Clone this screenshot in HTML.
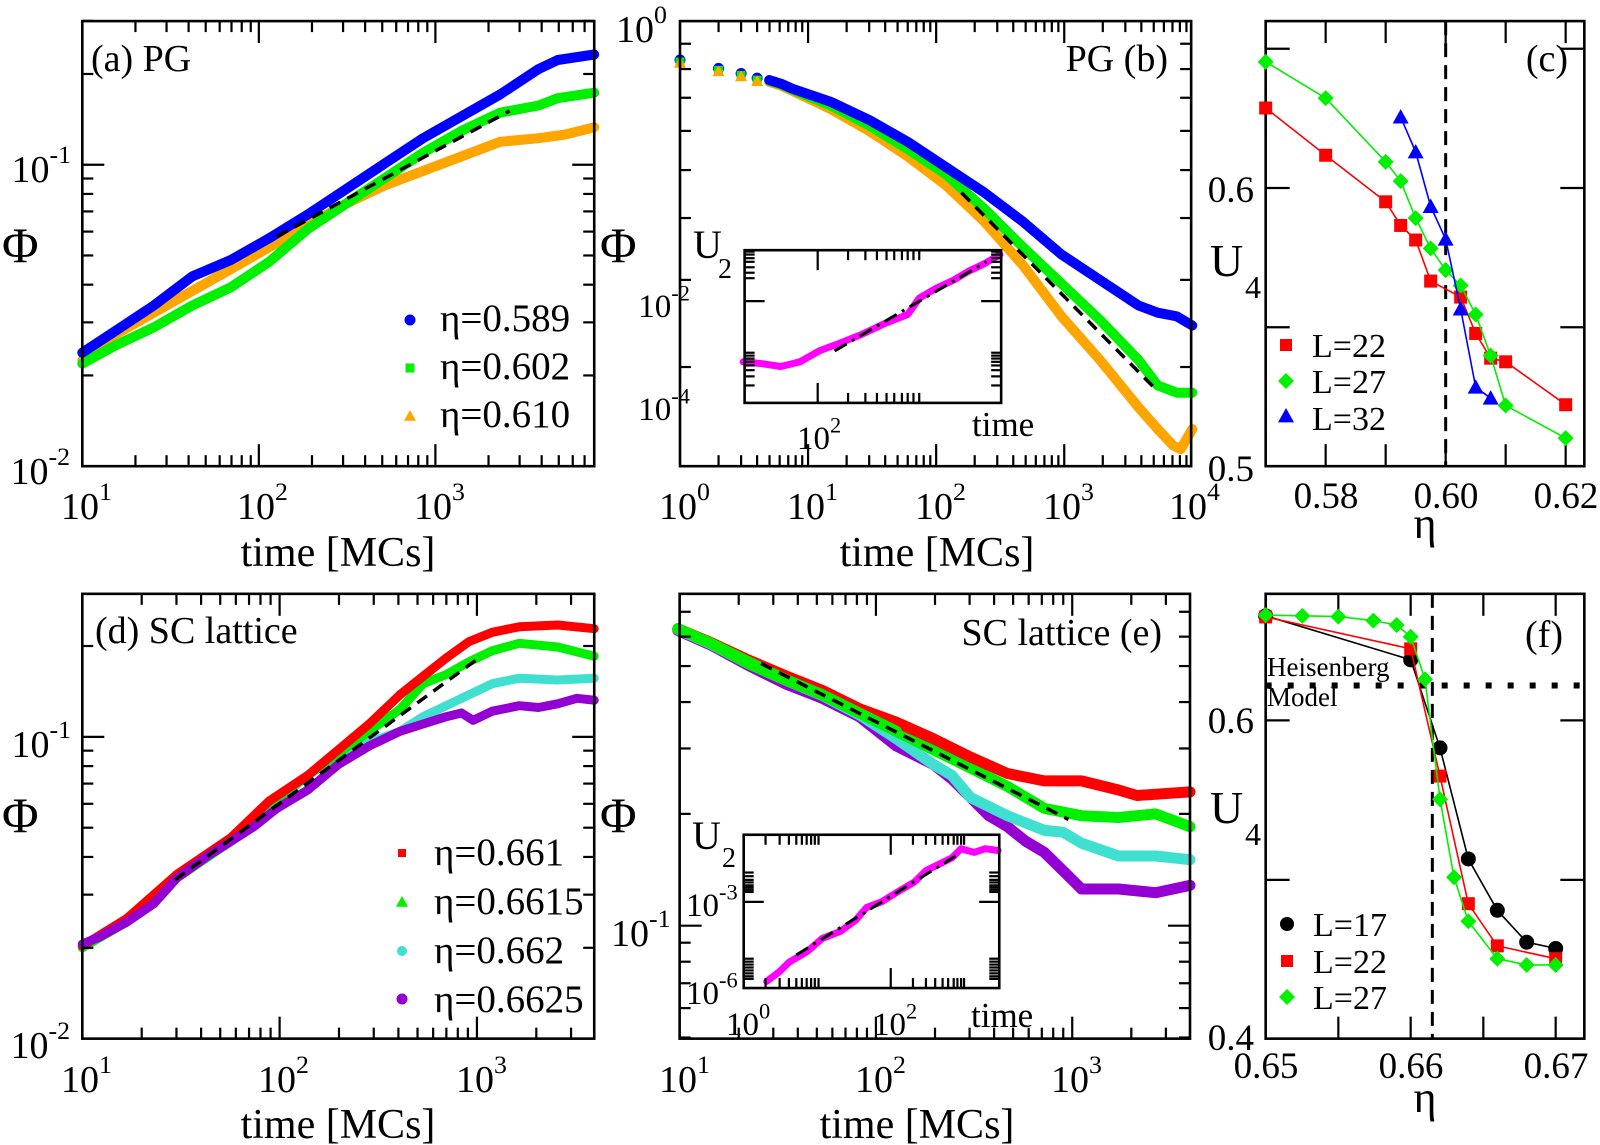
<!DOCTYPE html>
<html><head><meta charset="utf-8"><style>
html,body{margin:0;padding:0;background:#fff;}
svg{display:block;font-family:"Liberation Serif","DejaVu Serif",serif;}
</style></head><body>
<svg id="s" xmlns="http://www.w3.org/2000/svg" width="1600" height="1145" viewBox="0 0 1600 1145"></svg>
<script>
const NS='http://www.w3.org/2000/svg';
const svg=document.getElementById('s');
function el(tag,a,p){const e=document.createElementNS(NS,tag);for(const k in a)e.setAttribute(k,a[k]);(p||svg).appendChild(e);return e;}
function P(ox,oy,sx,sy,f){return {X:z=>ox+z/sx,Y:z=>oy+z/sy,f:f};}
const A=P(0,0,2.6,2.75,[214,58,1545,1282]);
const B=P(600,0,2.6,2.75,[208,58,1537,1282]);
const C=P(1180,0,3,2.75,[257,58,1213,1282]);
const D=P(0,570,2.6,2.727,[214,65,1545,1278]);
const E=P(600,570,2.7,2.727,[215,65,1593,1278]);
const F=P(1180,570,3,2.727,[257,65,1213,1278]);
function line(x1,y1,x2,y2,w,c,dash){el('line',{x1,y1,x2,y2,stroke:c||'#000','stroke-width':w||2.2,'stroke-dasharray':dash||'none'});}
function frame(p,f){f=f||p.f;el('rect',{x:p.X(f[0]),y:p.Y(f[1]),width:p.X(f[2])-p.X(f[0]),height:p.Y(f[3])-p.Y(f[1]),fill:'none',stroke:'#000','stroke-width':2.6});}
function xt(p,z,len,f){f=f||p.f;if(z<f[0]-1||z>f[2]+1)return;const x=p.X(z);line(x,p.Y(f[1]),x,p.Y(f[1])+len);line(x,p.Y(f[3]),x,p.Y(f[3])-len);}
function yt(p,z,len,f){f=f||p.f;if(z<f[1]-1||z>f[3]+1)return;const y=p.Y(z);line(p.X(f[0]),y,p.X(f[0])+len,y);line(p.X(f[2]),y,p.X(f[2])-len,y);}
function logx(p,bases,d,majors,ML,ml,f){majors.forEach(m=>xt(p,m,ML,f));bases.forEach(b=>{for(let k=2;k<=9;k++)xt(p,b+d*Math.log10(k),ml,f);});}
function logy(p,bases,d,majors,ML,ml,f){majors.forEach(m=>yt(p,m,ML,f));bases.forEach(b=>{for(let k=2;k<=9;k++)yt(p,b-d*Math.log10(k),ml,f);});}
function poly(p,pts,c,w,dash){el('polyline',{points:pts.map(q=>p.X(q[0]).toFixed(1)+','+p.Y(q[1]).toFixed(1)).join(' '),fill:'none',stroke:c,'stroke-width':w,'stroke-linejoin':'round','stroke-linecap':dash?'butt':'round','stroke-dasharray':dash||'none'});}
function T(x,y,s,size,anchor,style){const t=el('text',{x,y,'font-size':size,'text-anchor':anchor||'start'});if(style)t.setAttribute('style',style);t.textContent=s;return t;}
function sup(x,y,b,e,size,anchor){const t=el('text',{x,y,'font-size':size,'text-anchor':anchor||'start'});t.appendChild(document.createTextNode(b));const s=el('tspan',{dy:-size*0.5,'font-size':size*0.68},t);s.textContent=e;return t;}
function circ(x,y,r,c){el('circle',{cx:x,cy:y,r,fill:c});}
function sq(x,y,s,c){el('rect',{x:x-s/2,y:y-s/2,width:s,height:s,fill:c});}
function dia(x,y,s,c){el('polygon',{points:`${x},${y-s} ${x+s},${y} ${x},${y+s} ${x-s},${y}`,fill:c});}
function tri(x,y,s,c){el('polygon',{points:`${x},${y-s} ${x+s},${y+s*0.8} ${x-s},${y+s*0.8}`,fill:c});}
function pts(p,arr,fn,c,s){arr.forEach(q=>fn(p.X(q[0]),p.Y(q[1]),s,c));}
const ML=22,ml=11;
const BLUE='#0000ff',GRN='#00f000',ORG='#ffa500',RED='#ff0000',CYAN='#40e0d0',PUR='#9400d3',MAG='#ff00ff';

/* ---------- (a) ---------- */
poly(A,[[214,990],[300,920],[400,860],[500,800],[600,740],[700,680],[800,620],[900,560],[1000,510],[1100,470],[1200,430],[1300,390],[1400,380],[1470,370],[1545,350]],ORG,10);
poly(A,[[214,1000],[300,950],[400,900],[500,840],[600,790],[700,720],[800,630],[900,560],[1000,490],[1100,420],[1200,360],[1300,310],[1400,290],[1450,270],[1545,255]],GRN,10);
poly(A,[[214,970],[300,910],[400,840],[500,760],[600,715],[700,655],[800,590],[900,520],[1000,450],[1100,380],[1200,320],[1300,260],[1400,190],[1450,165],[1545,150]],BLUE,10);
poly(A,[[720,650],[1325,305]],'#000',3.5,'12 8');
frame(A);
logx(A,[214-459,214,673,1132],459,[673,1132],ML,ml);
logy(A,[1282,453],829,[453],ML,ml);
circ(410,320,5.5,BLUE);sq(410,368,9,GRN);tri(410,416,6,ORG);
T(440,331,'η=0.589',39);T(440,379,'η=0.602',39);T(440,427,'η=0.610',39);
T(91,71,'(a) PG',38);
sup(71,182,'10','-1',38,'end');sup(70,484,'10','-2',38,'end');
[[82,'1'],[258,'2'],[435,'3']].forEach(q=>sup(q[0]-21,519,'10',q[1],38));
T(2,262,'Φ',50);
T(338,566,'time [MCs]',42,'middle');

/* ---------- (b) ---------- */
const bB=[208,541,874,1207,1540];
poly(B,[[440,225],[470,235],[500,250],[600,300],[700,360],[800,430],[900,510],[1000,610],[1100,730],[1200,870],[1300,990],[1400,1120],[1450,1180],[1490,1225],[1510,1235],[1540,1180]],ORG,10);
poly(B,[[440,222],[470,232],[500,246],[600,290],[700,345],[800,410],[900,480],[1000,575],[1100,680],[1200,780],[1300,880],[1400,990],[1450,1060],[1500,1080],[1540,1080]],GRN,10);
poly(B,[[440,220],[470,230],[500,244],[600,280],[700,330],[800,390],[900,460],[1000,530],[1100,610],[1200,700],[1300,770],[1400,840],[1450,860],[1500,870],[1540,895]],BLUE,10);
[1,2,3,4].forEach((t,i)=>{const zx=208+333*Math.log10(t);const zy=[165,188,202,215][i];const x=B.X(zx),y=B.Y(zy);circ(x,y,5.5,BLUE);sq(x,y+2,9,GRN);tri(x,y+3,6,ORG);});
poly(B,[[940,530],[1440,1065]],'#000',3.5,'12 8');
frame(B);
logx(B,bB,333,[541,874,1207],ML,ml);
logy(B,[1419],1361,[],ML,ml);
T(1168,71,'PG (b)',38,'end');
sup(616,42,'10','0',38);
[[680,'0'],[808,'1'],[936,'2'],[1064,'3'],[1190,'4']].forEach(q=>sup(q[0]-21,519,'10',q[1],38));
T(600,262,'Φ',50);
T(937,566,'time [MCs]',42,'middle');
// inset b
const iB=[376,688,1043,1108];
el('rect',{x:B.X(376),y:B.Y(688),width:B.X(1043)-B.X(376),height:B.Y(1108)-B.Y(688),fill:'#fff',stroke:'none'});
poly(B,[[372,995],[420,1000],[470,1008],[520,995],[570,965],[620,945],[680,920],[740,890],[800,865],[830,820],[870,795],[920,770],[960,745],[1000,725],[1040,700]],MAG,7);
poly(B,[[610,965],[1005,720]],'#000',3,'14 6 3 6');
frame(B,iB);
xt(B,566,20,iB);[645,690,720,745,765,785,800,815,830].forEach(z=>xt(B,z,10,iB));
yt(B,828,20,iB);[692,700,710,720,735,750,765,970,978,986,995,1005,1018,1035,1060].forEach(z=>yt(B,z,10,iB));
T(693,258,'U',40);T(718,278,'2',28);
sup(690,317,'10','-2',33,'end');sup(690,420,'10','-4',33,'end');
sup(797,449,'10','2',33);
T(972,436,'time',35);

/* ---------- (c) ---------- */
line(C.X(797),C.Y(58),C.X(797),C.Y(1282),3,'#000','14 8');
frame(C);
[437,617,797,977,1157].forEach(z=>xt(C,z,22));
[134,517,900].forEach(z=>yt(C,z,24));
const cR=[[257,297],[437,427],[617,555],[662,620],[707,660],[752,773],[842,817],[887,917],[932,985],[977,995],[1157,1113]];
const cG=[[257,170],[437,270],[617,445],[662,498],[707,600],[752,683],[797,743],[842,785],[887,865],[932,978],[977,1115],[1157,1205]];
const cB=[[662,322],[707,418],[752,568],[797,658],[842,850],[887,1065],[932,1095]];
poly(C,cR,RED,1.6);pts(C,cR,sq,RED,13);
poly(C,cG,GRN,1.6);pts(C,cG,dia,GRN,8);
poly(C,cB,BLUE,1.6);pts(C,cB,tri,BLUE,8);
sq(1286,345,12,RED);dia(1286,381,8,GRN);tri(1286,416,8,BLUE);
T(1312,357,'L=22',34);T(1312,393,'L=27',34);T(1312,430,'L=32',34);
T(1568,71,'(c)',38,'end');
T(1254,202,'0.6',37,'end');T(1254,481,'0.5',37,'end');
T(1326,508,'0.58',37,'middle');T(1446,508,'0.60',37,'middle');T(1566,508,'0.62',37,'middle');
T(1210,276,'U',46);T(1245,298,'4',32);
T(1425,538,'η',44,'middle');

/* ---------- (d) ---------- */
poly(D,[[214,1030],[330,960],[460,840],[600,740],[700,650],[800,560],[880,510],[960,470],[1040,440],[1100,400],[1160,370],[1220,340],[1280,310],[1350,295],[1450,300],[1545,295]],CYAN,9);
poly(D,[[214,1030],[330,960],[460,840],[600,740],[700,640],[800,560],[880,500],[960,440],[1040,380],[1100,310],[1160,285],[1220,250],[1280,220],[1350,200],[1450,210],[1545,235]],GRN,9);
poly(D,[[214,1025],[330,950],[460,830],[600,730],[700,630],[800,560],[880,490],[960,420],[1040,340],[1100,290],[1160,240],[1220,195],[1280,170],[1350,155],[1450,150],[1545,160]],RED,9);
poly(D,[[214,1020],[260,1000],[330,960],[400,910],[460,840],[540,780],[600,740],[660,700],[720,650],[800,600],[880,530],[960,480],[1040,440],[1100,420],[1160,400],[1200,390],[1230,410],[1280,385],[1350,370],[1400,375],[1450,365],[1500,350],[1545,355]],PUR,9);
poly(D,[[455,845],[1245,240]],'#000',3.5,'12 8');
frame(D);
logx(D,[214-513,214,727,1240],513,[727,1240],ML,ml);
logy(D,[1278,455],823,[455],ML,ml);
sq(402,853,8,RED);tri(402,902,6,GRN);circ(402,951,5,CYAN);circ(402,999,5.5,PUR);
T(434,865,'η=0.661',39);T(434,914,'η=0.6615',39);T(434,963,'η=0.662',39);T(434,1012,'η=0.6625',39);
T(95,643,'(d) SC lattice',38);
sup(71,757,'10','-1',38,'end');sup(70,1058,'10','-2',38,'end');
[[82,'1'],[279,'2'],[477,'3']].forEach(q=>sup(q[0]-21,1092,'10',q[1],38));
T(2,832,'Φ',50);
T(338,1138,'time [MCs]',42,'middle');

/* ---------- (e) ---------- */
poly(E,[[210,165],[300,205],[400,260],[500,310],[600,350],[700,400],[800,480],[900,530],[950,570],[1000,620],[1050,670],[1100,700],[1150,740],[1200,770],[1250,820],[1300,870],[1400,870],[1500,880],[1593,860]],PUR,11);
poly(E,[[210,162],[300,202],[400,255],[500,300],[600,342],[700,395],[800,460],[900,530],[950,560],[1000,620],[1100,670],[1200,710],[1250,715],[1300,745],[1400,780],[1500,780],[1593,790]],CYAN,11);
poly(E,[[210,160],[300,200],[400,255],[500,300],[600,340],[700,390],[800,440],[900,490],[1000,540],[1100,590],[1200,650],[1300,670],[1400,675],[1500,665],[1593,700]],GRN,11);
poly(E,[[210,160],[300,198],[400,245],[500,288],[600,328],[700,378],[800,415],[900,460],[1000,510],[1100,555],[1200,575],[1300,575],[1400,600],[1450,615],[1593,605]],RED,11);
poly(E,[[210,160],[300,200],[400,250],[500,298],[600,340],[700,390],[800,440]],GRN,11);
poly(E,[[435,255],[1265,680]],'#000',3.5,'12 8');
frame(E);
logx(E,[215,745,1275],530,[745,1275],ML,ml);
logy(E,[1983,970],1013,[970],ML,ml);
T(1162,645,'SC lattice (e)',38,'end');
sup(611,946,'10','-1',38);
[[680,'1'],[876,'2'],[1072,'3']].forEach(q=>sup(q[0]-21,1092,'10',q[1],38));
T(600,832,'Φ',50);
T(917,1138,'time [MCs]',42,'middle');
// inset e
const iE=[388,722,1078,1140];
el('rect',{x:E.X(388),y:E.Y(722),width:E.X(1078)-E.X(388),height:E.Y(1140)-E.Y(722),fill:'#fff',stroke:'none'});
poly(E,[[450,1122],[485,1095],[510,1070],[560,1040],[600,1005],[650,985],[690,955],[720,920],[760,905],[800,880],[850,850],[880,820],[920,800],[950,785],[975,760],[1010,770],[1040,760],[1075,765]],MAG,7);
poly(E,[[530,1050],[960,780]],'#000',3,'14 6 3 6');
frame(E,iE);
xt(E,785,20,iE);[447,485,510,530,545,558,570,580,590,845,880,905,925,940,955,965,975,983].forEach(z=>xt(E,z,10,iE));
yt(E,905,20,iE);[825,835,845,852,860,866,872,878,1060,1068,1076,1084,1092,1100,1108,1115].forEach(z=>yt(E,z,10,iE));
T(692,849,'U',40);T(722,867,'2',28);
sup(686,916,'10','-3',33);sup(686,1004,'10','-6',33);
sup(726,1035,'10','0',33);sup(873,1035,'10','2',33);
T(971,1027,'time',35);

/* ---------- (f) ---------- */
line(F.X(757),F.Y(65),F.X(757),F.Y(1278),3,'#000','14 8');
line(F.X(257),F.Y(315),F.X(1213),F.Y(315),6,'#000','6 16');
frame(F);
[475,692,910,1127].forEach(z=>xt(F,z,22));
[410,845].forEach(z=>yt(F,z,24));
const fK=[[257,125],[692,245],[780,485],[865,788],[952,928],[1040,1015],[1127,1032]];
const fR=[[257,128],[692,215],[780,562],[865,910],[952,1025],[1127,1060]];
const fG=[[257,123],[367,125],[475,127],[580,138],[650,150],[692,182],[735,298],[780,625],[822,838],[865,958],[952,1060],[1040,1077],[1127,1077]];
poly(F,fK,'#000',1.6);pts(F,fK,circ,'#000',7.5);
poly(F,fR,RED,1.6);pts(F,fR,sq,RED,13);
poly(F,fG,GRN,1.6);pts(F,fG,dia,GRN,8);
circ(1287,924,7,'#000');sq(1287,961,12,RED);dia(1287,997,8,GRN);
T(1313,936,'L=17',34);T(1313,973,'L=22',34);T(1313,1009,'L=27',34);
T(1267,676,'Heisenberg',27);T(1267,706,'Model',27);
T(1563,647,'(f)',38,'end');
T(1254,733,'0.6',37,'end');T(1254,1050,'0.4',37,'end');
T(1266,1078,'0.65',37,'middle');T(1411,1078,'0.66',37,'middle');T(1556,1078,'0.67',37,'middle');
T(1210,823,'U',46);T(1245,845,'4',32);
T(1425,1112,'η',44,'middle');
</script>
</body></html>
